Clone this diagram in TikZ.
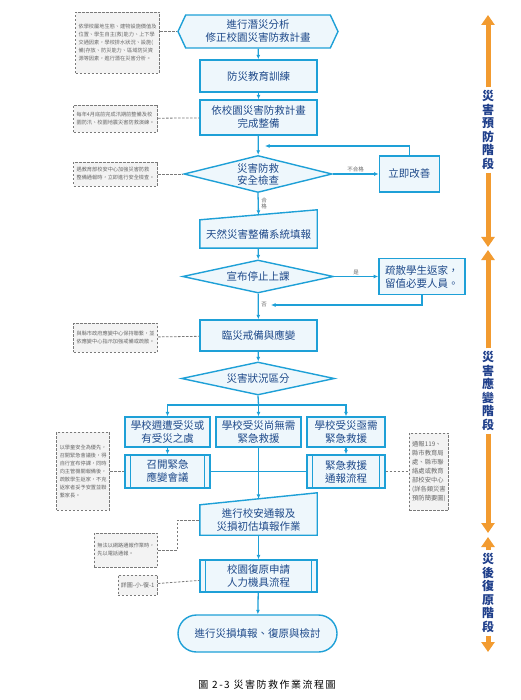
\documentclass[tikz,border=0pt]{standalone}
\usepackage{fontspec}
\setmainfont{Noto Sans CJK TC}
\usetikzlibrary{positioning,arrows.meta,shapes.geometric,shapes.symbols,backgrounds}

\definecolor{flowblue}{HTML}{1EA0D7}
\definecolor{flowfill}{HTML}{EEF7FC}
\definecolor{flowtext}{HTML}{1F4A8A}
\definecolor{notegray}{HTML}{7A7A7A}
\definecolor{notefill}{HTML}{F3F3F3}
\definecolor{notetext}{HTML}{686868}
\definecolor{phaseorange}{HTML}{F29B30}
\definecolor{phaseblue}{HTML}{1E3E8A}

\begin{document}
\begin{tikzpicture}[
    x=1pt, y=-1pt,
    every node/.style={font=\fontsize{10.5}{13}\selectfont, text=flowtext},
    mainbox/.style={draw=flowblue, fill=flowfill, line width=1.4pt, align=center, inner sep=2pt, minimum width=117pt, minimum height=32pt},
    hexbox/.style={mainbox, signal, signal to=west and east, signal pointer angle=130, minimum width=160pt, minimum height=33pt},
    decision/.style={diamond, draw=flowblue, fill=flowfill, line width=1.4pt, align=center, inner sep=0pt, font=\fontsize{10.5}{12}\selectfont},
    inputbox/.style={align=center, inner sep=2pt, minimum width=117pt},
    inputline/.style={draw=flowblue, fill=flowfill, line width=1.4pt},
    procline/.style={draw=flowblue, line width=1.2pt},
    endbox/.style={mainbox, rounded corners=18.5pt, minimum width=159pt, minimum height=37pt},
    notebox/.style={draw=notegray, fill=notefill, dash pattern=on 2.5pt off 1.5pt, line width=0.9pt, text=notetext, align=left, inner sep=3pt, font=\fontsize{5.2}{8}\selectfont},
    noteline/.style={draw=notegray, dash pattern=on 2.5pt off 1.5pt, line width=0.8pt},
    flow/.style={draw=flowblue, line width=1.3pt},
    flowlabel/.style={text=notetext, font=\fontsize{5.5}{6}\selectfont, inner sep=1pt},
    phasetext/.style={text=phaseblue, align=center, inner sep=3pt, font=\fontsize{12}{13.5}\selectfont\bfseries},
    phasearrow/.style={draw=phaseorange, line width=5pt, -{Triangle[width=13pt,length=10pt]}},
    >={Latex[length=4.5pt,width=4pt]}
  ]
    \useasboundingbox (0,0) rectangle (520,700);

    % main flow
    \node[hexbox] (hex) at (258,31.5) {進行潛災分析\\修正校園災害防救計畫};
    \node[mainbox] (edu) at (258.5,76) {防災教育訓練};
    \node[mainbox, minimum height=35pt] (prep) at (258.5,117.5) {依校園災害防救計畫\\完成整備};
    \node[decision, aspect=3.5, minimum width=148pt, minimum height=37pt] (chk) at (258,174) {災害防救\\安全檢查};
    \node[mainbox, minimum width=60pt, minimum height=36pt, right=46pt of chk] (fix) {立即改善};
    \node[inputbox, minimum height=28pt] (fill1) at (258.5,234) {天然災害整備系統填報};
    \node[decision, aspect=5, minimum width=151pt, minimum height=33pt] (stop) at (258,276.5) {宣布停止上課};
    \node[mainbox, minimum width=86pt, minimum height=36pt, right=44pt of stop] (evac) {疏散學生返家，\\留值必要人員。};
    \node[mainbox, minimum height=31pt] (alert) at (258.5,335.5) {臨災戒備與應變};
    \node[decision, aspect=5, minimum width=153pt, minimum height=33pt] (kind) at (258,378.5) {災害狀況區分};

    \node[mainbox, minimum width=85pt, minimum height=30pt] (near) at (167.5,432) {學校週遭受災或\\有受災之虞};
    \node[mainbox, minimum width=85pt, minimum height=30pt] (calm) at (258.5,432) {學校受災尚無需\\緊急救援};
    \node[mainbox, minimum width=78pt, minimum height=30pt] (urgent) at (346,432) {學校受災亟需\\緊急救援};
    \node[mainbox, minimum width=85pt, minimum height=33pt] (meet) at (167.5,471.5) {召開緊急\\應變會議};
    \node[mainbox, minimum width=78pt, minimum height=33pt] (rescue) at (346,471.5) {緊急救援\\通報流程};

    \node[inputbox, minimum height=30pt] (report) at (258.5,520) {進行校安通報及\\災損初估填報作業};
    \node[mainbox] (restore) at (258.5,576) {校園復原申請\\人力機具流程};
    \node[endbox] (review) at (257.5,633.5) {進行災損填報、復原與檢討};

    \begin{scope}[on background layer]
      \filldraw[inputline] (fill1.south west) -- (fill1.north west) -- ([yshift=10pt]fill1.north east) -- (fill1.south east) -- cycle;
      \filldraw[inputline] (report.south west) -- (report.north west) -- ([yshift=12pt]report.north east) -- (report.south east) -- cycle;
    \end{scope}
    \foreach \n in {meet,rescue,restore} {
      \draw[procline] ([xshift=6pt]\n.north west) -- ([xshift=6pt]\n.south west);
      \draw[procline] ([xshift=-6pt]\n.north east) -- ([xshift=-6pt]\n.south east);
    }

    % connectors
    \coordinate (back1) at (265,146);
    \coordinate (back2) at (271,305);
    \coordinate (split) at (258.5,405);
    \coordinate (join) at (258.5,471.5);

    \draw[flow,->] (hex) -- (edu);
    \draw[flow,->] (edu) -- (prep);
    \draw[flow,->] (prep) -- (chk);
    \draw[flow,->] (chk) -- node[flowlabel, above] {不合格} (fix);
    \draw[flow,->] (fix.north) |- (back1);
    \draw[flow,->] (chk.south) -- ([yshift=5pt]fill1.north);
    \node[flowlabel, align=center, font=\fontsize{5.5}{6}\selectfont] (okl) at (264,203) {合\\格};
    \draw[flow,->] (fill1) -- (stop);
    \draw[flow,->] (stop) -- node[flowlabel, above] {是} (evac);
    \draw[flow,->] (evac.south) |- (back2);
    \draw[flow,->] (stop) -- (alert);
    \node[flowlabel] (nol) at (264,305) {否};
    \draw[flow,->] (alert) -- (kind);
    \draw[flow] (kind.south) -- (split);
    \draw[flow,->] (split) -| (near.north);
    \draw[flow,->] (split) -- (calm.north);
    \draw[flow,->] (split) -| (urgent.north);
    \draw[flow,->] (near) -- (meet);
    \draw[flow,->] (urgent) -- (rescue);
    \draw[flow] (meet.east) -- (join);
    \draw[flow] (rescue.west) -- (join);
    \draw[flow,->] (calm.south) -- ([yshift=6pt]report.north);
    \draw[flow,->] (report) -- (restore);
    \draw[flow,->] (restore) -- (review);

    % notes
    \node[notebox, anchor=east, minimum height=61pt] (note1) at (160,42.5) {依學校屬地生態、建物設施價值及\\位置、學生自主(救)能力、上下學\\交通因素，學校排水狀況、設施(\\備)存放、防災能力、區域防災資\\源等因素，進行潛在災害分析。};
    \node[notebox, anchor=east, minimum height=27pt] (note2) at (158,118.5) {每年4月底前完成汛期前整備及校\\園防汛、校園地震災害防救演練。};
    \node[notebox, anchor=east, minimum height=24pt] (note3) at (158,174) {遇教育部校安中心加強災害防救\\整備通報時，立即進行安全檢查。};
    \node[notebox, anchor=east, minimum height=29pt] (note4) at (158,337.5) {與縣市政府應變中心保持聯繫，並\\依應變中心指示加強戒備或疏散。};
    \node[notebox, anchor=east, minimum height=78pt] (note5) at (110,471) {以學童安全為優先，\\召開緊急會議後，得\\自行宣布停課，同時\\向主管機關報備後，\\疏散學生返家，不克\\返家者妥予安置並聯\\繫家長。};
    \node[notebox, minimum height=77pt, font=\fontsize{6.3}{9}\selectfont, right=23pt of rescue] (note6) {通報119、\\縣市教育局\\處、縣市聯\\絡處或教育\\部校安中心\\(詳各類災害\\預防簡要圖)};
    \node[notebox, anchor=east, minimum height=34pt] (note7) at (158,550) {無法以網路通報作業時，\\先以電話通報。};
    \node[notebox, anchor=east, minimum height=20pt, font=\fontsize{6}{8}\selectfont] (note8) at (158,585) {詳圖-小-復-1};

    \coordinate (bend7) at (177,520);
    \draw[noteline] (note1.east |- hex.west) -- (hex.west);
    \draw[noteline] (note2) -- (prep);
    \draw[noteline] (note3) -- (chk);
    \draw[noteline] (note4) -- (alert);
    \draw[noteline] (note5.east |- meet.west) -- (meet.west);
    \draw[noteline] (rescue.east) -- (note6.west |- rescue.east);
    \draw[noteline] (note7.east) -| (bend7) -- (report.west);
    \draw[noteline] (note8) -- (restore);

    % phases
    \node[phasetext] (ph1) at (488,130) {災\\害\\預\\防\\階\\段};
    \node[phasetext] (ph2) at (488,391) {災\\害\\應\\變\\階\\段};
    \node[phasetext] (ph3) at (488,593) {災\\後\\復\\原\\階\\段};
    \coordinate (p1top) at (488,15);
    \coordinate (p1bot) at (488,247);
    \coordinate (p2top) at (488,250);
    \coordinate (p2bot) at (488,533);
    \coordinate (p3top) at (488,537);
    \coordinate (p3bot) at (488,652);
    \draw[phasearrow] (ph1.north) -- (p1top);
    \draw[phasearrow] (ph1.south) -- (p1bot);
    \draw[phasearrow] (ph2.north) -- (p2top);
    \draw[phasearrow] (ph2.south) -- (p2bot);
    \draw[phasearrow] (ph3.north) -- (p3top);
    \draw[phasearrow] (ph3.south) -- (p3bot);

    \node[text=black, font=\fontsize{10}{12}\selectfont\addfontfeature{LetterSpace=15}] (caption) at (267,685) {圖 2-3 災害防救作業流程圖};
  \end{tikzpicture}
\end{document}
